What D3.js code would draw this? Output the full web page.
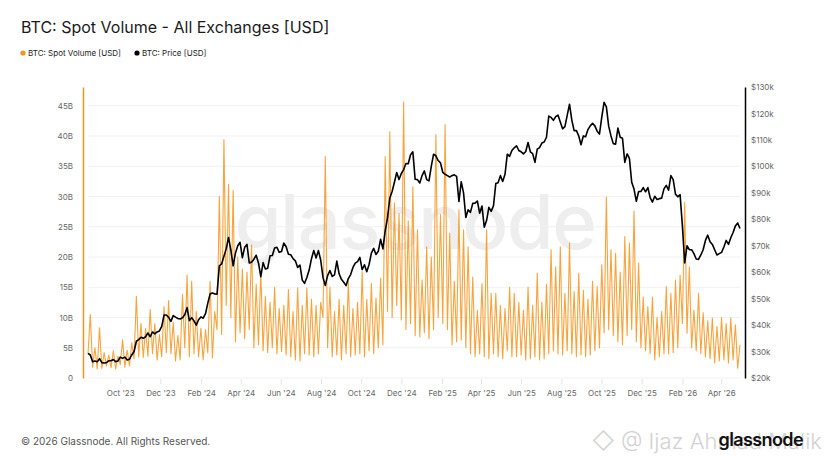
<!DOCTYPE html>
<html>
<head>
<meta charset="utf-8">
<script src="https://cdn.jsdelivr.net/npm/d3@7"></script>
<style>
  body { margin: 0; background: #fff; }
  svg { font-family: Inter, "Noto Sans", sans-serif; display: block; }
</style>
</head>
<body>
<svg width="828" height="466"></svg>
<script>
  'use strict';

  // twice-weekly samples starting Sunday 13 Aug 2023 (one every 84 hours)
  const startDate = new Date(2023, 7, 13);

  // BTC spot volume, billions USD
  const volume = [
    4.0,10.5, 1.8,5.0, 1.5,8.3, 1.6,4.2, 2.0,3.8, 1.7,4.5, 1.5,3.6, 2.2,6.3, 1.8,4.6, 2.0,5.8,
    3.2,13.5, 3.5,9.0, 3.4,8.2, 3.6,11.3, 4.0,9.0, 3.0,7.2, 3.5,11.8, 4.2,12.8, 4.0,9.2, 2.8,7.0,
    3.0,13.8, 5.0,17.0, 3.5,16.0, 4.0,11.0, 3.5,8.2, 3.0,8.0, 4.2,16.0, 3.3,11.0, 8.0,30.0, 7.2,39.4,
    12.0,32.0, 10.0,31.0, 6.0,20.0, 7.5,18.0, 6.5,17.5, 8.0,22.0, 5.0,15.5, 5.5,17.6, 4.5,13.5, 4.2,12.5,
    5.0,15.0, 4.0,11.5, 4.4,12.0, 3.8,14.6, 3.5,11.0, 3.0,14.9, 2.8,12.0, 4.0,14.9, 3.8,13.0, 3.5,12.0,
    4.0,12.5, 10.0,36.6, 5.0,15.0, 3.5,11.0, 3.8,13.0, 3.0,12.0, 4.0,16.0, 3.5,11.5, 3.8,12.5, 4.0,17.6,
    3.5,13.0, 4.5,15.6, 4.0,13.2, 5.0,16.5, 5.5,36.6, 11.0,40.7, 10.0,28.9, 12.0,27.2, 9.6,45.6, 8.0,26.0,
    9.0,31.6, 7.0,24.5, 6.8,16.2, 7.5,21.7, 6.5,20.0, 8.0,40.2, 10.0,27.0, 9.0,41.9, 8.0,23.9, 5.5,16.0,
    6.0,27.8, 6.3,24.5, 5.0,21.7, 4.0,16.7, 3.5,11.2, 4.0,15.6, 3.5,24.5, 3.2,14.0, 4.0,14.0, 3.5,12.0,
    3.2,11.5, 4.5,15.0, 3.5,14.0, 3.5,12.5, 3.8,11.2, 3.0,15.0, 3.2,12.0, 3.5,17.3, 3.0,12.5, 3.2,15.5,
    4.0,21.2, 4.5,18.4, 4.0,21.7, 3.8,14.0, 4.5,22.3, 4.0,14.3, 3.5,17.3, 3.8,14.5, 3.5,13.0, 3.8,16.0,
    4.5,15.1, 5.0,18.7, 7.5,29.9, 8.0,21.2, 7.0,20.6, 6.0,17.5, 5.5,23.4, 7.0,22.3, 8.0,27.6, 6.0,19.0,
    5.0,13.4, 4.5,11.8, 4.0,13.4, 3.0,10.0, 3.5,11.0, 4.0,15.1, 4.0,14.0, 4.2,16.2, 5.0,17.0, 9.0,29.0,
    7.4,18.4, 5.0,11.2, 4.5,14.0, 4.0,10.8, 3.5,9.5, 3.2,9.9, 2.5,8.5, 2.8,10.0, 3.0,9.0, 2.5,9.9, 3.0,8.8,
    1.6,5.5
  ];

  // BTC price, thousands USD, same sample dates
  const price = [
    29.3,28.7, 26.1,26.4, 26.1,27.3, 25.8,25.7, 25.8,26.5, 26.5,27.0, 26.2,26.4, 27.9,27.4, 27.9,26.8, 27.1,28.7,
    30.0,33.9, 34.5,35.4, 35.0,35.6, 37.0,35.6, 37.4,36.7, 37.4,37.8, 39.5,43.8, 43.8,42.9, 41.4,43.6, 43.0,42.5,
    42.3,42.8, 43.9,46.6, 41.7,42.8, 41.6,40.0, 42.0,43.1, 42.6,44.3, 48.3,51.8, 52.1,51.8, 51.7,62.4, 63.1,66.0,
    68.9,73.1, 68.4,62.4, 67.2,70.0, 71.3,65.5, 69.4,70.5, 63.5,63.8, 64.9,66.4, 63.5,58.3, 63.6,61.2, 61.5,66.2,
    66.3,69.1, 69.4,67.5, 67.8,71.0, 69.6,66.8, 66.6,65.1, 64.3,61.8, 62.7,57.0, 55.8,58.0, 60.8,65.1, 68.2,65.4,
    68.2,64.6, 58.0,55.0, 58.7,60.6, 58.4,59.0, 64.2,59.4, 57.3,56.2, 54.9,57.6, 59.1,61.8, 63.4,64.0, 65.6,61.0,
    62.8,60.2, 62.9,67.2, 69.0,66.7, 67.9,72.4, 68.8,75.6, 80.5,88.0, 90.5,94.0, 97.7,95.0, 97.3,98.8, 101.1,101.0,
    104.4,105.5, 95.1,95.0, 93.7,96.5, 98.3,95.0, 94.5,100.0, 104.6,104.0, 102.2,101.3, 97.7,97.0, 96.5,96.0, 96.5,96.8,
    96.2,86.7, 94.2,90.0, 80.7,83.6, 82.6,86.0, 86.1,86.9, 82.3,85.0, 77.0,79.5, 84.5,83.0, 85.1,93.5, 93.8,96.5,
    94.3,97.0, 104.6,103.8, 106.0,107.0, 107.8,106.0, 105.5,104.7, 105.6,109.0, 105.5,104.8, 101.5,106.5, 107.1,108.8, 109.2,111.0,
    119.0,118.5, 117.4,118.8, 119.4,116.8, 114.2,115.0, 119.3,123.5, 117.5,113.5, 113.5,111.5, 108.2,111.5, 111.2,113.9, 115.3,116.3,
    115.3,113.3, 112.2,118.6, 124.2,122.5, 115.2,111.5, 108.6,108.4, 114.5,111.0, 110.6,101.5, 104.7,103.0, 94.0,91.4, 86.8,90.5,
    90.5,92.0, 90.4,92.0, 88.2,86.5, 88.7,87.5, 87.8,88.0, 91.5,92.8, 91.0,96.5, 95.0,89.5, 88.5,89.3, 77.5,63.5,
    70.0,68.5, 68.5,67.0, 65.0,64.8, 66.5,68.5, 72.0,74.0, 71.5,70.5, 68.5,66.5, 67.0,67.5, 69.5,72.0, 70.5,73.0, 75.0,77.5,
    78.6,76.5
  ];

  const volumeTicks = [0, 5, 10, 15, 20, 25, 30, 35, 40, 45];
  const priceTicks = [20, 30, 40, 50, 60, 70, 80, 90, 100, 110, 120, 130];

  const dates = volume.map((d, i) => d3.timeHour.offset(startDate, i * 84));

  const svg = d3.select('svg');
  const orange = '#f7931a';

  const x = d3.scaleTime()
    .domain([dates[0], dates[dates.length - 1]])
    .range([88, 740]);
  const yVol = d3.scaleLinear().domain([0, 48.1]).range([378, 87]);
  const yPrice = d3.scaleLinear().domain([20, 130]).range([378, 87]);

  // title + legend
  svg.append('text')
    .attr('x', 21).attr('y', 33)
    .attr('font-size', 16).attr('fill', '#1a1a1a')
    .text('BTC: Spot Volume - All Exchanges [USD]');

  const legend = [
    { label: 'BTC: Spot Volume [USD]', color: orange, x: 23 },
    { label: 'BTC: Price [USD]', color: '#000', x: 137 }
  ];
  const lg = svg.selectAll('.lg').data(legend).enter().append('g')
    .attr('transform', d => `translate(${d.x},53)`);
  lg.append('circle').attr('r', 2.6).attr('fill', d => d.color);
  lg.append('text')
    .attr('x', 5).attr('y', 2.8)
    .attr('font-size', 8).attr('fill', '#222')
    .text(d => d.label);

  // grid
  svg.append('g').selectAll('line').data(volumeTicks).enter().append('line')
    .attr('x1', 88).attr('x2', 740)
    .attr('y1', d => yVol(d)).attr('y2', d => yVol(d))
    .attr('stroke', '#f1f1f1');

  // watermark
  svg.append('text')
    .attr('x', 415).attr('y', 249)
    .attr('text-anchor', 'middle')
    .attr('font-size', 76).attr('font-weight', 500)
    .attr('fill', '#eeeeee')
    .attr('letter-spacing', -1.5)
    .text('glassnode');

  // series
  const volLine = d3.line()
    .x((d, i) => x(dates[i]))
    .y(d => yVol(d));
  svg.append('path').datum(volume)
    .attr('d', volLine)
    .attr('fill', 'none')
    .attr('stroke', orange)
    .attr('stroke-opacity', 0.85)
    .attr('stroke-width', 1.1)
    .attr('stroke-linejoin', 'round');

  const priceLine = d3.line()
    .x((d, i) => x(dates[i]))
    .y(d => yPrice(d));
  svg.append('path').datum(price)
    .attr('d', priceLine)
    .attr('fill', 'none')
    .attr('stroke', '#000')
    .attr('stroke-width', 1.6)
    .attr('stroke-linejoin', 'round');

  // left axis
  const leftAxis = svg.append('g').attr('transform', 'translate(83,0)')
    .call(d3.axisLeft(yVol).tickValues(volumeTicks)
      .tickSize(0).tickPadding(10)
      .tickFormat(d => d === 0 ? '0' : d + 'B'));
  leftAxis.select('.domain').attr('stroke', orange).attr('stroke-width', 1.5);
  leftAxis.selectAll('text').attr('font-size', 8).attr('fill', '#666')
    .attr('font-family', 'Inter, "Noto Sans", sans-serif');

  // right axis
  const rightAxis = svg.append('g').attr('transform', 'translate(745,0)')
    .call(d3.axisRight(yPrice).tickValues(priceTicks)
      .tickSize(0).tickPadding(6)
      .tickFormat(d => '$' + d + 'k'));
  rightAxis.select('.domain').attr('stroke', '#000').attr('stroke-width', 1.5);
  rightAxis.selectAll('text').attr('font-size', 8).attr('fill', '#666')
    .attr('font-family', 'Inter, "Noto Sans", sans-serif');

  // bottom axis
  const fmt = d3.timeFormat("%b '%y");
  const bottomAxis = svg.append('g').attr('transform', 'translate(0,379)')
    .call(d3.axisBottom(x)
      .ticks(d3.timeMonth.filter(d => d.getMonth() % 2 === 1))
      .tickSize(5).tickPadding(6)
      .tickFormat(fmt));
  bottomAxis.select('.domain').remove();
  bottomAxis.selectAll('line').attr('stroke', '#e2e2e2');
  bottomAxis.selectAll('text').attr('font-size', 8).attr('fill', '#666')
    .attr('font-family', 'Inter, "Noto Sans", sans-serif');

  // footer
  svg.append('text')
    .attr('x', 21).attr('y', 445)
    .attr('font-size', 10).attr('fill', '#555')
    .text('\u00a9 2026 Glassnode. All Rights Reserved.');

  // screenshot watermark, drawn under the logo as in the original
  svg.append('text')
    .attr('x', 822).attr('y', 449)
    .attr('text-anchor', 'end')
    .attr('font-size', 22).attr('font-weight', 300).attr('fill', '#d2d2d2')
    .text('\u25C7 @ Ijaz Ahmad Malik');

  svg.append('text')
    .attr('x', 803).attr('y', 446)
    .attr('text-anchor', 'end')
    .attr('font-size', 18).attr('font-weight', 600)
    .attr('fill', '#111').attr('letter-spacing', -0.6)
    .text('glassnode');
</script>
</body>
</html>
